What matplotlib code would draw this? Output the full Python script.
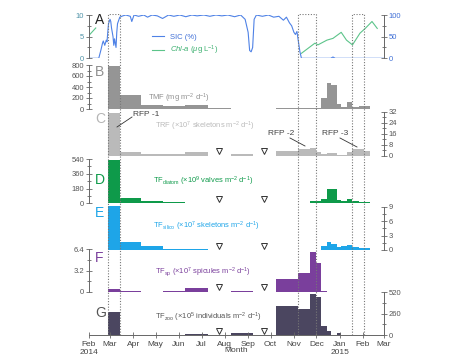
import numpy as np
import pandas as pd
import matplotlib
matplotlib.use('Agg')
import matplotlib.pyplot as plt
import matplotlib.dates as mdates

plt.rcParams['font.family'] = ['Liberation Sans', 'DejaVu Sans']
plt.rcParams['mathtext.fontset'] = 'custom'
plt.rcParams['mathtext.rm'] = 'Liberation Sans'
plt.rcParams['mathtext.it'] = 'Liberation Sans:italic'

nan = np.nan
# sediment trap cup edges (open / close dates)
cup_edges = ['2014-02-26', '2014-03-14', '2014-04-11', '2014-05-10', '2014-06-09', '2014-07-09',
             '2014-08-09', '2014-09-07', '2014-10-08', '2014-11-06', '2014-11-23', '2014-12-01',
             '2014-12-07', '2014-12-15', '2014-12-21', '2014-12-28', '2015-01-03', '2015-01-11',
             '2015-01-17', '2015-01-27', '2015-02-03', '2015-02-11']
tmf = [790, 250, 75, 55, 70, 25, 8, 8, 10, 12, 20, 20, 200, 480, 430, 90, 40, 135, 40, 50, 50]
trf = [31, 2.8, 1.0, 1.5, 2.3, nan, 1.0, nan, 3.3, 4.7, 5.7, 2.8, 1.1, 1.6, 1.6, 0.3, 0.3, 2.8, 4.5, 5.0, 3.3]
tf_diatom = [525, 60, 24, 12, 2, nan, 1, nan, 1, 2, 28, 28, 52, 170, 170, 40, 25, 48, 30, 10, 10]
tf_silico = [9.1, 1.6, 0.8, 0.3, 0.15, nan, 0.05, nan, 0, 0, 0, 0, 0.8, 1.6, 1.25, 0.55, 0.8, 1.0, 0.55, 0.4, 0.4]
tf_sp = [0.4, 0.05, 0, 0.1, 0.6, nan, 0.15, nan, 1.85, 2.75, 5.95, 4.3, 0.15, 0, 0, 0, 0, 0, 0, 0, 0]
tf_zoo = [284, 4, 0, 0, 15, nan, 30, nan, 350, 320, 495, 465, 110, 50, 0, 30, 3, 3, 3, 3, 3]

# sea ice concentration (%)
sic_dates = ['2014-02-01', '2014-02-14', '2014-02-17', '2014-02-19', '2014-02-20', '2014-02-22',
             '2014-02-24', '2014-02-25', '2014-02-26', '2014-02-27', '2014-03-01', '2014-03-02',
             '2014-03-03', '2014-03-05', '2014-03-06', '2014-03-07', '2014-03-09', '2014-03-10',
             '2014-03-11', '2014-03-14', '2014-03-18', '2014-03-22', '2014-03-28', '2014-03-30',
             '2014-04-02', '2014-04-08', '2014-04-15', '2014-04-20', '2014-04-26', '2014-05-03',
             '2014-05-10', '2014-05-18', '2014-05-25', '2014-06-02', '2014-06-10', '2014-06-18',
             '2014-06-25', '2014-07-04', '2014-07-12', '2014-07-20', '2014-07-28', '2014-08-05',
             '2014-08-14', '2014-08-22', '2014-08-28', '2014-09-01', '2014-09-03', '2014-09-05',
             '2014-09-07', '2014-09-09', '2014-09-12', '2014-09-20', '2014-09-28', '2014-10-05',
             '2014-10-12', '2014-10-18', '2014-10-22', '2014-10-26', '2014-10-29', '2014-11-01',
             '2014-11-03', '2014-11-05', '2014-11-06', '2014-11-09', '2014-11-11', '2014-12-20',
             '2014-12-23', '2014-12-26', '2015-03-01']
sic_vals = [0, 0, 20, 35, 40, 30, 42, 38, 60, 80, 90, 85,
            70, 50, 30, 45, 25, 60, 80, 95, 98, 100, 97, 85,
            100, 97, 100, 95, 100, 98, 92, 100, 97, 100, 96, 100,
            98, 100, 97, 100, 98, 100, 96, 100, 90, 60, 18, 15,
            25, 90, 100, 97, 100, 95, 97, 88, 95, 82, 75, 60,
            55, 62, 50, 15, 0, 0, 3, 0, 0]
# chlorophyll-a (ug/L)
chl_dates = ['2014-02-01', '2014-02-10', None, '2014-11-11', '2014-11-29', '2014-12-03', '2014-12-15',
             '2014-12-23', '2015-01-03', '2015-01-10', '2015-01-18', '2015-01-28', '2015-02-04',
             '2015-02-13', '2015-02-20']
chl_vals = [5.3, 7.0, nan, 1.15, 3.5, 3.1, 4.2, 4.6, 6.0, 4.2, 3.1, 5.8, 6.9, 8.5, 6.9]

rfp_start = ['2014-02-26', '2014-11-06', '2015-01-17']
rfp_end = ['2014-03-14', '2014-12-01', '2015-02-03']
missing = [5, 7]  # cups not analysed

month_ticks = pd.date_range('2014-02-01', '2015-03-01', freq='MS')
month_labels = ['Feb\n2014', 'Mar', 'Apr', 'May', 'Jun', 'Jul', 'Aug', 'Sep', 'Oct', 'Nov', 'Dec',
                'Jan\n2015', 'Feb', 'Mar']

W, H = 474, 356
fig = plt.figure(figsize=(W / 100, H / 100), dpi=100)

def box(top, bot):
    return [89 / W, 1 - bot / H, 295 / W, (bot - top) / H]

def fp(x, y):
    return (x / W, 1 - y / H)

x0 = mdates.date2num(pd.Timestamp('2014-02-01'))
x1 = mdates.date2num(pd.Timestamp('2015-03-01'))
edges = mdates.date2num(pd.to_datetime(cup_edges))
lefts = edges[:-1]
widths = np.diff(edges)
mids = lefts + widths / 2
axcol = '#666666'

def style(ax, side, ylim, major, minor, labcol='#555555'):
    ax.set_facecolor('none')
    for s in ['top', 'bottom', 'left', 'right']:
        ax.spines[s].set_visible(False)
    ax.spines[side].set_visible(True)
    ax.spines[side].set_color(axcol)
    ax.spines[side].set_linewidth(0.7)
    ax.yaxis.set_ticks_position(side)
    ax.set_xlim(x0, x1)
    ax.set_ylim(*ylim)
    ax.set_yticks(major)
    ax.set_yticklabels([('%g' % m) for m in major])
    ax.set_yticks(minor, minor=True)
    ax.tick_params(axis='y', which='both', direction='inout', color=axcol, width=0.6,
                   labelsize=5.5, labelcolor=labcol, pad=1.5)
    ax.tick_params(axis='y', which='major', length=4)
    ax.tick_params(axis='y', which='minor', length=2.5)
    ax.set_xticks([])

# panel A
axA = fig.add_axes(box(15, 58.3))
style(axA, 'left', (0, 10), [0, 5, 10], [2.5, 7.5], labcol='#4f93a8')
axA2 = axA.twinx()
style(axA2, 'right', (0, 100), [0, 50, 100], [25, 75], labcol='#3f6fd6')
sx = mdates.date2num(pd.to_datetime(sic_dates))
axA2.plot(sx, sic_vals, color='#4f82e6', lw=0.8)
cx = [mdates.date2num(pd.Timestamp(d)) if d else nan for d in chl_dates]
axA.plot(cx, chl_vals, color='#5cc48a', lw=0.8)
hl = [plt.Line2D([], [], color='#4f82e6', lw=0.8), plt.Line2D([], [], color='#5cc48a', lw=0.8)]
leg = axA.legend(hl, ['SIC (%)', r'$Chl$-$a$ ($\mu$g L$^{-1}$)'], loc='upper left',
                 bbox_to_anchor=(0.2, 0.66), frameon=False, fontsize=5.5, handlelength=1.6,
                 handletextpad=0.8, labelspacing=0.35, borderpad=0)
for t, c in zip(leg.get_texts(), ['#3f6fd6', '#3db070']):
    t.set_color(c)

panels = [
    # top, bottom, side, ylim, major, minor, values, colour
    (65, 109, 'left', (0, 800), [0, 200, 400, 600, 800], [100, 300, 500, 700], tmf, '#959595'),
    (111.7, 155.6, 'right', (0, 32), [0, 8, 16, 24, 32], [4, 12, 20, 28], trf, '#bababa'),
    (159, 203.3, 'left', (0, 540), [0, 180, 360, 540], [90, 270, 450], tf_diatom, '#0e9a4a'),
    (206.7, 250, 'right', (0, 9), [0, 3, 6, 9], [1.5, 4.5, 7.5], tf_silico, '#1ea5e8'),
    (249.3, 291.7, 'left', (0, 6.4), [0, 3.2, 6.4], [1.6, 4.8], tf_sp, '#7a3f9c'),
    (292.3, 335, 'right', (0, 520), [0, 260, 520], [130, 390], tf_zoo, '#4b4660'),
]
axes = []
for i, (top, bot, side, ylim, major, minor, vals, col) in enumerate(panels):
    ax = fig.add_axes(box(top, bot))
    style(ax, side, ylim, major, minor)
    v = np.array(vals, dtype=float)
    ok = ~np.isnan(v)
    ax.bar(lefts[ok], v[ok], width=widths[ok], align='edge', color=col, lw=0, clip_on=False)
    if i > 0:
        ax.plot(mids[missing], [0.1] * len(missing), ls='none', marker='v', ms=5, mfc='white',
                mec='#333333', mew=0.7, transform=ax.get_xaxis_transform(), clip_on=False)
    axes.append(ax)

axG = axes[-1]
axG.spines['bottom'].set_visible(True)
axG.spines['bottom'].set_color(axcol)
axG.spines['bottom'].set_linewidth(0.7)
axG.set_xticks(mdates.date2num(month_ticks))
axG.set_xticklabels(month_labels)
axG.tick_params(axis='x', direction='inout', length=4, width=0.6, color=axcol, labelsize=6,
                labelcolor='#444444', pad=2)
axG.set_xlabel('Month', fontsize=6, color='#444444', labelpad=-6)

# dotted boxes for the RFP periods
axO = fig.add_axes(box(14, 335))
axO.set_xlim(x0, x1)
axO.set_ylim(0, 1)
axO.axis('off')
for s, e in zip(rfp_start, rfp_end):
    a = mdates.date2num(pd.Timestamp(s))
    b = mdates.date2num(pd.Timestamp(e))
    axO.plot([a, a, b, b], [0, 1, 1, 0], color='#777777', ls=(0, (1, 1.5)), lw=0.8)

# panel letters and labels
letters = [('A', 20, '#222222'), ('B', 72, '#8f8f8f'), ('C', 119, '#b5b5b5'), ('D', 180, '#0e9a4a'),
           ('E', 213, '#1ea5e8'), ('F', 258, '#7a3f9c'), ('G', 313, '#555555')]
for let, y, c in letters:
    fig.text(*fp(95, y), let, fontsize=10, color=c, va='center', ha='left')

labels = [
    (148, 98, 'TMF (mg m$^{-2}$ d$^{-1}$)', '#8f8f8f'),
    (155, 126, r'TRF ($\times$10$^{7}$ skeletons m$^{-2}$ d$^{-1}$)', '#bababa'),
    (153, 181, r'TF$_{\rm diatom}$ ($\times$10$^{9}$ valves m$^{-2}$ d$^{-1}$)', '#0e9a4a'),
    (153, 226, r'TF$_{\rm silico}$ ($\times$10$^{7}$ skeletons m$^{-2}$ d$^{-1}$)', '#1ea5e8'),
    (155, 272, r'TF$_{\rm sp}$ ($\times$10$^{7}$ spicules m$^{-2}$ d$^{-1}$)', '#7a3f9c'),
    (155, 317, r'TF$_{\rm zoo}$ ($\times$10$^{5}$ individuals m$^{-2}$ d$^{-1}$)', '#555555'),
]
for x, y, t, c in labels:
    fig.text(*fp(x, y), t, fontsize=5.4, color=c, va='center', ha='left')

rfps = [('RFP -1', (133, 114), (132, 117), (117, 127)),
        ('RFP -2', (281, 133), (290, 138), (305, 146)),
        ('RFP -3', (335, 133), (340, 138), (357, 147))]
for t, tp, a, b in rfps:
    fig.text(*fp(*tp), t, fontsize=6, color='#444444', va='center', ha='left' if t.endswith('1') else 'center')
    fig.add_artist(plt.Line2D([a[0] / W, b[0] / W], [1 - a[1] / H, 1 - b[1] / H], color='#333333', lw=0.6))

fig.savefig('out.png', dpi=100)
